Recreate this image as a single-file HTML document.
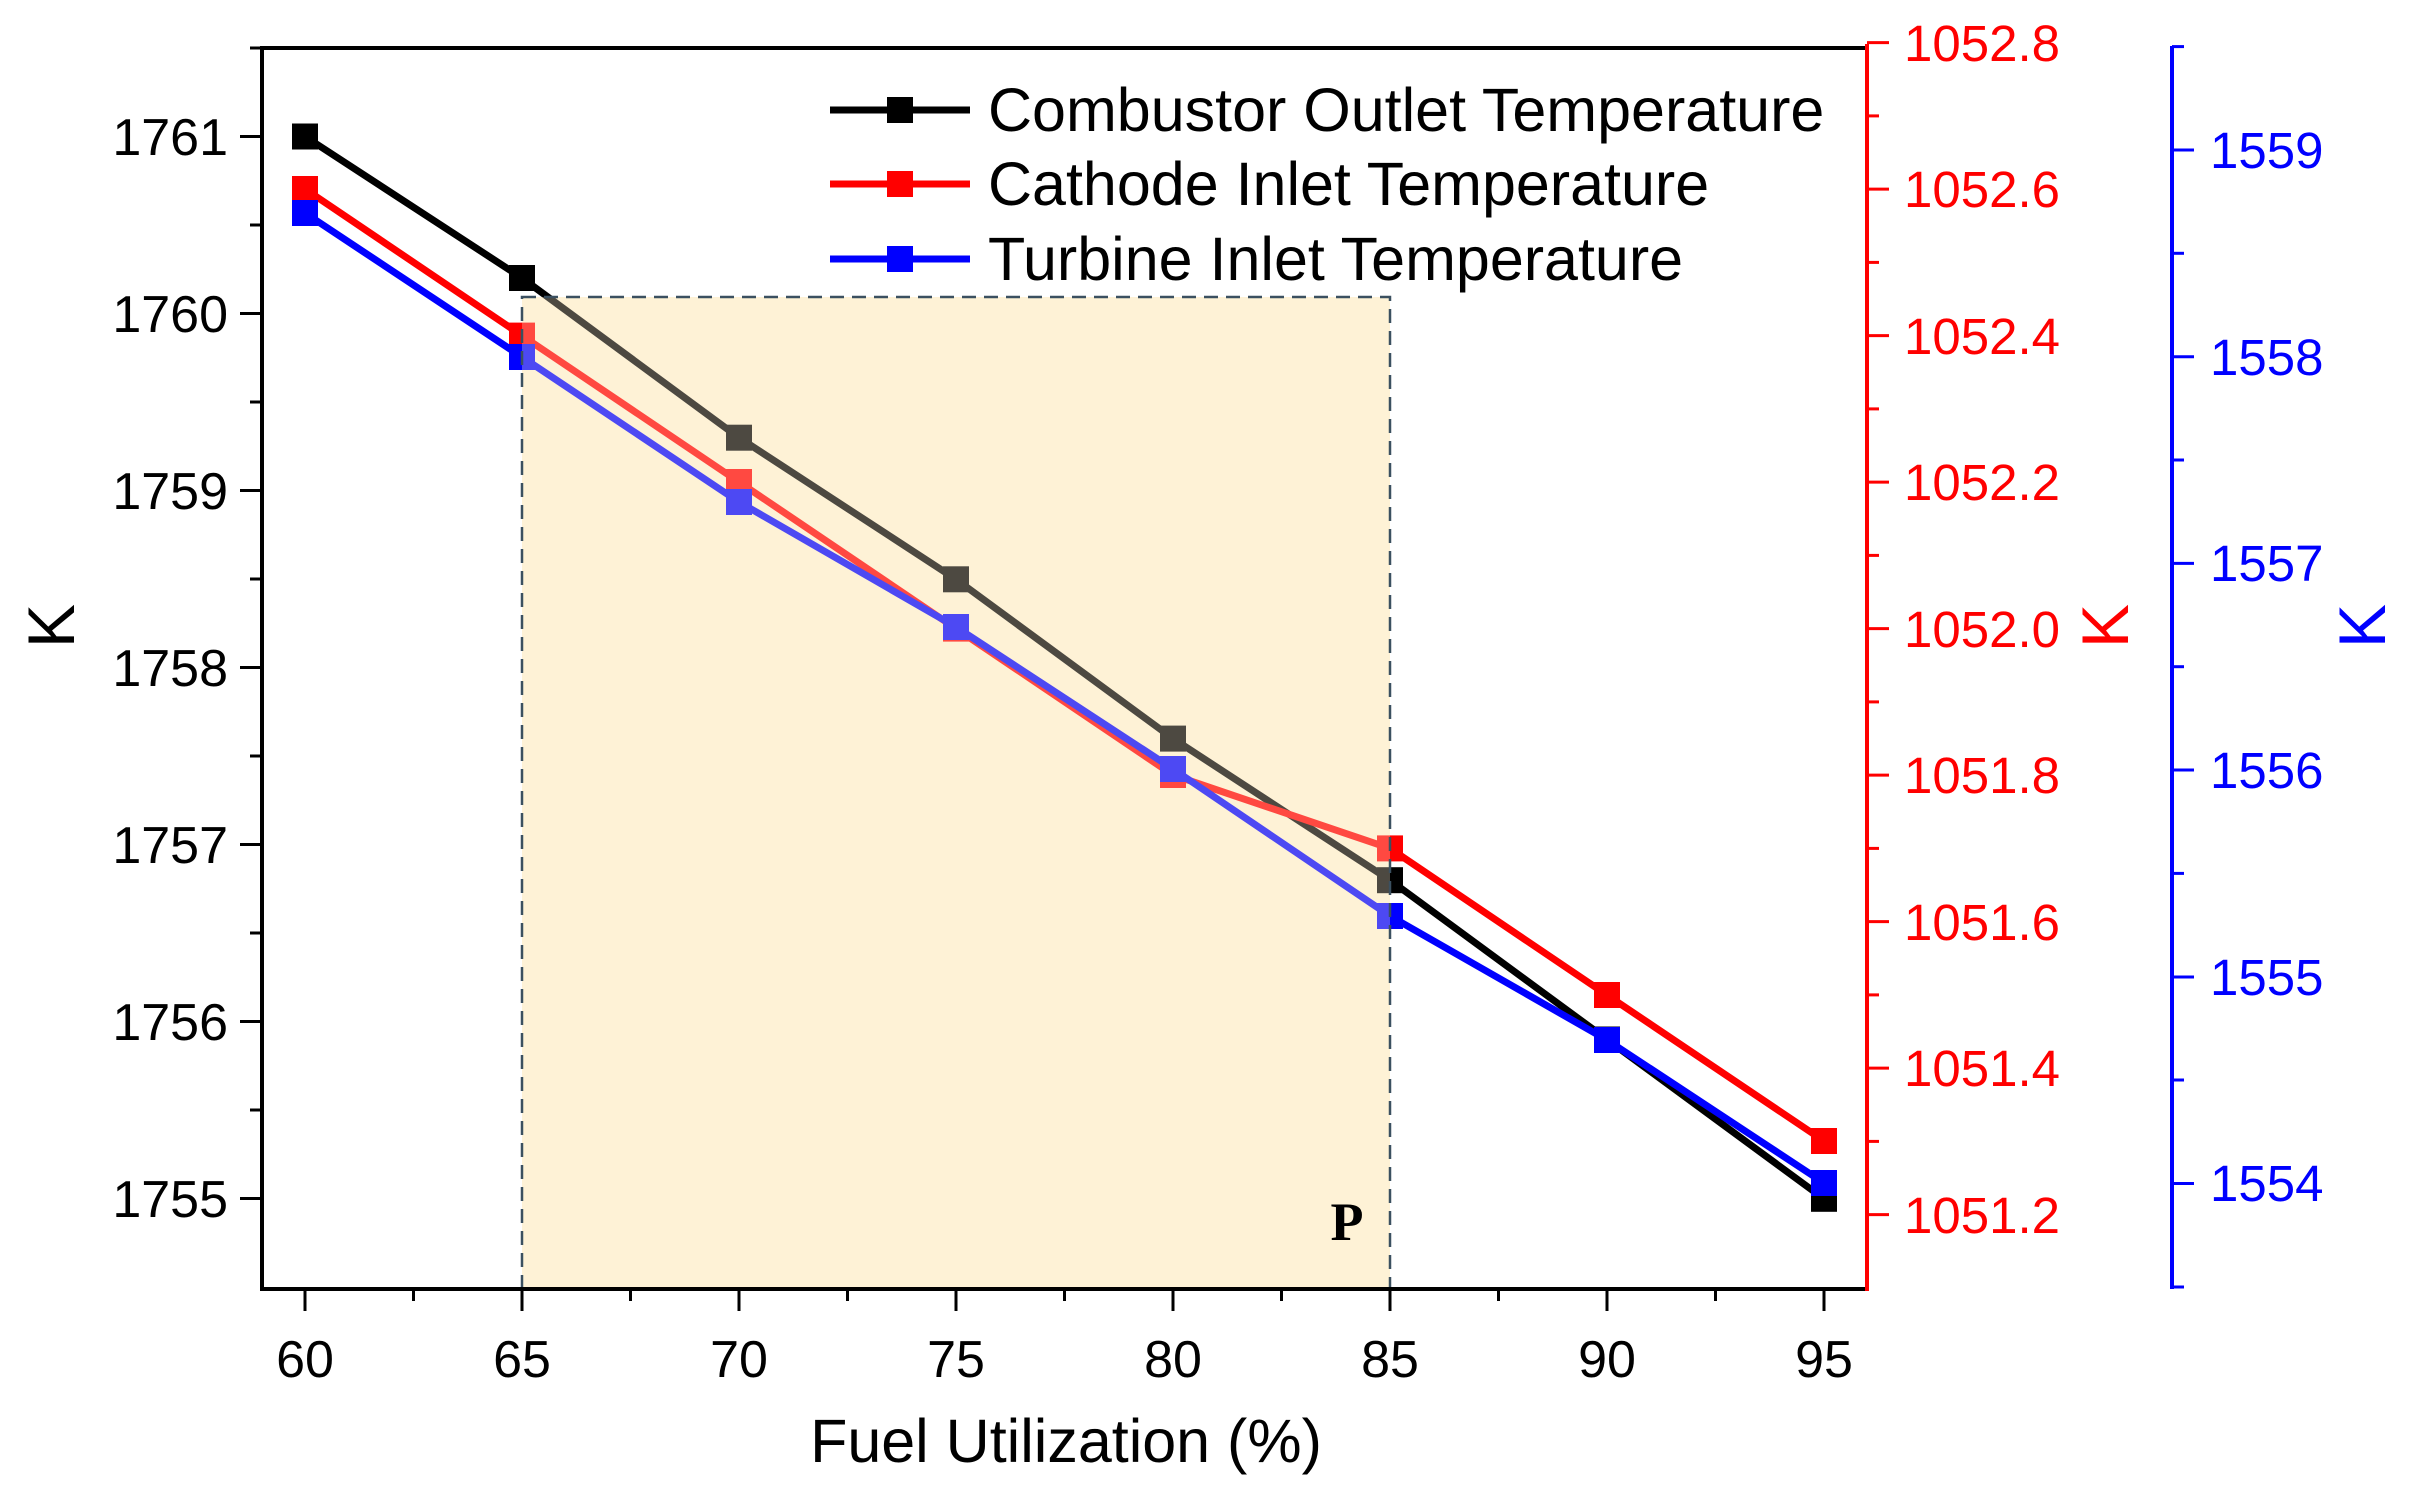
<!DOCTYPE html>
<html><head><style>html,body{margin:0;padding:0;background:#fff}</style></head><body>
<svg width="2422" height="1502" viewBox="0 0 2422 1502" xmlns="http://www.w3.org/2000/svg" font-family="Liberation Sans, sans-serif">
<rect x="522" y="297" width="868" height="992" fill="#fef3d6"/>
<g stroke-width="7" fill="none" stroke-linejoin="round">
<polyline stroke="#000" points="305,136.5 522,278 739,437.7 956,579.3 1173,738.6 1390,880.2 1607,1039.5 1824,1198.8"/>
<polyline stroke="#ff0000" points="305,189 522,335.6 739,482 956,628.6 1173,775 1390,848.4 1607,995 1824,1141"/>
<polyline stroke="#0000ff" points="305,213 522,357 739,502 956,627 1173,769 1390,916 1607,1040 1824,1183"/>
</g>
<g fill="#000"><rect x="292" y="123.5" width="26" height="26"/><rect x="509" y="265" width="26" height="26"/><rect x="726" y="424.7" width="26" height="26"/><rect x="943" y="566.3" width="26" height="26"/><rect x="1160" y="725.6" width="26" height="26"/><rect x="1377" y="867.2" width="26" height="26"/><rect x="1594" y="1026.5" width="26" height="26"/><rect x="1811" y="1185.8" width="26" height="26"/></g>
<g fill="#ff0000"><rect x="292" y="176" width="26" height="26"/><rect x="509" y="322.6" width="26" height="26"/><rect x="726" y="469" width="26" height="26"/><rect x="943" y="615.6" width="26" height="26"/><rect x="1160" y="762" width="26" height="26"/><rect x="1377" y="835.4" width="26" height="26"/><rect x="1594" y="982" width="26" height="26"/><rect x="1811" y="1128" width="26" height="26"/></g>
<g fill="#0000ff"><rect x="292" y="200" width="26" height="26"/><rect x="509" y="344" width="26" height="26"/><rect x="726" y="489" width="26" height="26"/><rect x="943" y="614" width="26" height="26"/><rect x="1160" y="756" width="26" height="26"/><rect x="1377" y="903" width="26" height="26"/><rect x="1594" y="1027" width="26" height="26"/><rect x="1811" y="1170" width="26" height="26"/></g>
<rect x="522" y="297" width="868" height="992" fill="#fef3d6" fill-opacity="0.3"/>
<rect x="522" y="297" width="868" height="992" fill="none" stroke="#3b5060" stroke-width="2.5" stroke-dasharray="14,8"/>
<text x="1347" y="1240" font-family="Liberation Serif, serif" font-weight="bold" font-size="54" text-anchor="middle">P</text>
<g stroke="#000" stroke-width="4" fill="none">
<line x1="262" y1="48" x2="1867" y2="48"/>
<line x1="262" y1="46" x2="262" y2="1291"/>
<line x1="260" y1="1289" x2="1867" y2="1289"/>
</g>
<g stroke="#000" stroke-width="3">
<line x1="240" y1="136.5" x2="262" y2="136.5"/><line x1="240" y1="313.5" x2="262" y2="313.5"/><line x1="240" y1="490.5" x2="262" y2="490.5"/><line x1="240" y1="667.5" x2="262" y2="667.5"/><line x1="240" y1="844.5" x2="262" y2="844.5"/><line x1="240" y1="1021.5" x2="262" y2="1021.5"/><line x1="240" y1="1198.5" x2="262" y2="1198.5"/>
<line x1="250" y1="225" x2="262" y2="225"/><line x1="250" y1="402" x2="262" y2="402"/><line x1="250" y1="579" x2="262" y2="579"/><line x1="250" y1="756" x2="262" y2="756"/><line x1="250" y1="933" x2="262" y2="933"/><line x1="250" y1="1110" x2="262" y2="1110"/><line x1="250" y1="48" x2="262" y2="48"/>
<line x1="305" y1="1289" x2="305" y2="1311"/><line x1="522" y1="1289" x2="522" y2="1311"/><line x1="739" y1="1289" x2="739" y2="1311"/><line x1="956" y1="1289" x2="956" y2="1311"/><line x1="1173" y1="1289" x2="1173" y2="1311"/><line x1="1390" y1="1289" x2="1390" y2="1311"/><line x1="1607" y1="1289" x2="1607" y2="1311"/><line x1="1824" y1="1289" x2="1824" y2="1311"/>
<line x1="413.5" y1="1289" x2="413.5" y2="1301"/><line x1="630.5" y1="1289" x2="630.5" y2="1301"/><line x1="847.5" y1="1289" x2="847.5" y2="1301"/><line x1="1064.5" y1="1289" x2="1064.5" y2="1301"/><line x1="1281.5" y1="1289" x2="1281.5" y2="1301"/><line x1="1498.5" y1="1289" x2="1498.5" y2="1301"/><line x1="1715.5" y1="1289" x2="1715.5" y2="1301"/>
</g>
<g font-size="52" text-anchor="end" fill="#000">
<text x="228" y="155">1761</text><text x="228" y="332">1760</text><text x="228" y="509">1759</text><text x="228" y="686">1758</text><text x="228" y="863">1757</text><text x="228" y="1040">1756</text><text x="228" y="1217">1755</text>
</g>
<g font-size="52" text-anchor="middle" fill="#000">
<text x="305" y="1377">60</text><text x="522" y="1377">65</text><text x="739" y="1377">70</text><text x="956" y="1377">75</text><text x="1173" y="1377">80</text><text x="1390" y="1377">85</text><text x="1607" y="1377">90</text><text x="1824" y="1377">95</text>
</g>
<text x="1066" y="1462" font-size="61" text-anchor="middle">Fuel Utilization (%)</text>
<text transform="translate(74,626) rotate(-90)" font-size="66" text-anchor="middle">K</text>
<line x1="1867" y1="44" x2="1867" y2="1291" stroke="#ff0000" stroke-width="4"/>
<g stroke="#ff0000" stroke-width="3">
<line x1="1867" y1="42.6" x2="1889" y2="42.6"/><line x1="1867" y1="189.1" x2="1889" y2="189.1"/><line x1="1867" y1="335.6" x2="1889" y2="335.6"/><line x1="1867" y1="482.1" x2="1889" y2="482.1"/><line x1="1867" y1="628.6" x2="1889" y2="628.6"/><line x1="1867" y1="775.1" x2="1889" y2="775.1"/><line x1="1867" y1="921.6" x2="1889" y2="921.6"/><line x1="1867" y1="1068.1" x2="1889" y2="1068.1"/><line x1="1867" y1="1214.6" x2="1889" y2="1214.6"/>
<line x1="1867" y1="115.9" x2="1879" y2="115.9"/><line x1="1867" y1="262.4" x2="1879" y2="262.4"/><line x1="1867" y1="408.9" x2="1879" y2="408.9"/><line x1="1867" y1="555.4" x2="1879" y2="555.4"/><line x1="1867" y1="701.9" x2="1879" y2="701.9"/><line x1="1867" y1="848.4" x2="1879" y2="848.4"/><line x1="1867" y1="994.9" x2="1879" y2="994.9"/><line x1="1867" y1="1141.4" x2="1879" y2="1141.4"/>
</g>
<g font-size="51" fill="#ff0000">
<text x="1904" y="61">1052.8</text><text x="1904" y="207">1052.6</text><text x="1904" y="354">1052.4</text><text x="1904" y="500">1052.2</text><text x="1904" y="647">1052.0</text><text x="1904" y="793">1051.8</text><text x="1904" y="940">1051.6</text><text x="1904" y="1086">1051.4</text><text x="1904" y="1233">1051.2</text>
</g>
<text transform="translate(2128,626) rotate(-90)" font-size="66" fill="#ff0000" text-anchor="middle">K</text>
<line x1="2172" y1="46" x2="2172" y2="1289" stroke="#0000ff" stroke-width="4"/>
<g stroke="#0000ff" stroke-width="3">
<line x1="2172" y1="150" x2="2194" y2="150"/><line x1="2172" y1="356.7" x2="2194" y2="356.7"/><line x1="2172" y1="563.4" x2="2194" y2="563.4"/><line x1="2172" y1="770" x2="2194" y2="770"/><line x1="2172" y1="977" x2="2194" y2="977"/><line x1="2172" y1="1183.5" x2="2194" y2="1183.5"/>
<line x1="2172" y1="46.6" x2="2184" y2="46.6"/><line x1="2172" y1="253.3" x2="2184" y2="253.3"/><line x1="2172" y1="460" x2="2184" y2="460"/><line x1="2172" y1="666.7" x2="2184" y2="666.7"/><line x1="2172" y1="873.4" x2="2184" y2="873.4"/><line x1="2172" y1="1080" x2="2184" y2="1080"/><line x1="2172" y1="1287" x2="2184" y2="1287"/>
</g>
<g font-size="51" fill="#0000ff">
<text x="2210" y="168">1559</text><text x="2210" y="375">1558</text><text x="2210" y="581">1557</text><text x="2210" y="788">1556</text><text x="2210" y="995">1555</text><text x="2210" y="1201">1554</text>
</g>
<text transform="translate(2385,626) rotate(-90)" font-size="66" fill="#0000ff" text-anchor="middle">K</text>
<g stroke-width="7">
<line x1="830" y1="110" x2="970" y2="110" stroke="#000"/><rect x="887" y="97" width="26" height="26" fill="#000"/>
<line x1="830" y1="184" x2="970" y2="184" stroke="#ff0000"/><rect x="887" y="171" width="26" height="26" fill="#ff0000"/>
<line x1="830" y1="259" x2="970" y2="259" stroke="#0000ff"/><rect x="887" y="246" width="26" height="26" fill="#0000ff"/>
</g>
<g font-size="61" fill="#000">
<text x="988" y="131">Combustor Outlet Temperature</text>
<text x="988" y="205">Cathode Inlet Temperature</text>
<text x="988" y="280">Turbine Inlet Temperature</text>
</g>
</svg>
</body></html>
